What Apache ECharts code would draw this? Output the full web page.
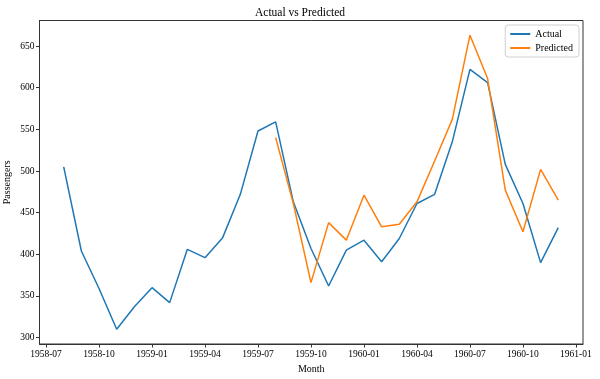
<!DOCTYPE html>
<html>
<head>
<meta charset="utf-8">
<script src="https://cdn.jsdelivr.net/npm/echarts@6/dist/echarts.min.js"></script>
<style>html,body{margin:0;padding:0;background:#fff;}#c{width:600px;height:379px;}</style>
</head>
<body>
<div id="c"></div>
<script>
const actualMonths = ['1958-08','1958-09','1958-10','1958-11','1958-12','1959-01','1959-02','1959-03','1959-04','1959-05','1959-06','1959-07','1959-08','1959-09','1959-10','1959-11','1959-12','1960-01','1960-02','1960-03','1960-04','1960-05','1960-06','1960-07','1960-08','1960-09','1960-10','1960-11','1960-12'];
const actualValues = [505,404,359,310,337,360,342,406,396,420,472,548,559,463,407,362,405,417,391,419,461,472,535,622,606,508,461,390,432];
const predictedMonths = ['1959-08','1959-09','1959-10','1959-11','1959-12','1960-01','1960-02','1960-03','1960-04','1960-05','1960-06','1960-07','1960-08','1960-09','1960-10','1960-11','1960-12'];
const predictedValues = [540,461,366,438,417,471,433,436,463,512,562,663,611,477,427,502,465];
const xTickLabels = ['1958-07','1958-10','1959-01','1959-04','1959-07','1959-10','1960-01','1960-04','1960-07','1960-10','1961-01'];
const yTicks = [300,350,400,450,500,550,600,650];

const BASE_YEAR = 1958;
function toIdx(s){const p=s.split('-');return (parseInt(p[0])-BASE_YEAR)*12+(parseInt(p[1])-1);}
function fromIdx(i){const y=BASE_YEAR+Math.floor(i/12);const m=i%12+1;return y+'-'+(m<10?'0':'')+m;}
const xTicks = xTickLabels.map(toIdx);

const font = 'Liberation Serif';
const chart = echarts.init(document.getElementById('c'), null, {renderer:'canvas'});
chart.setOption({
  animation:false,
  backgroundColor:'#fff',
  title:{text:'Actual vs Predicted',left:'center',top:2,textStyle:{fontFamily:font,fontSize:11.5,fontWeight:'normal',color:'#000'}},
  legend:{
    data:['Actual','Predicted'],orient:'vertical',right:21,top:25,
    icon:'rect',itemWidth:20,itemHeight:2,itemGap:4,
    padding:[4,6,4,5],borderColor:'#d0d0d0',borderWidth:1,borderRadius:3,
    textStyle:{fontFamily:font,fontSize:10,color:'#000'}
  },
  grid:{left:39.5,right:17,top:20.5,bottom:35,show:true,borderColor:'#333',borderWidth:1,containLabel:false,outerBoundsMode:'none'},
  xAxis:{
    type:'value',min:5.63,max:36.4,
    name:'Month',nameLocation:'middle',nameGap:20,
    nameTextStyle:{fontFamily:font,fontSize:10,color:'#000'},
    axisLine:{show:true,onZero:false,lineStyle:{color:'#333',width:1}},
    axisTick:{show:true,length:3.5,customValues:xTicks,lineStyle:{color:'#333'}},
    axisLabel:{customValues:xTicks,formatter:v=>fromIdx(Math.round(v)),fontFamily:font,fontSize:9.5,color:'#000',margin:5},
    splitLine:{show:false}
  },
  yAxis:{
    type:'value',min:292.35,max:680.65,
    name:'Passengers',nameLocation:'middle',nameGap:27,nameRotate:90,nameMoveOverlap:false,
    nameTextStyle:{fontFamily:font,fontSize:10,color:'#000'},
    axisLine:{show:true,onZero:false,lineStyle:{color:'#333',width:1}},
    axisTick:{show:true,length:3.5,customValues:yTicks,lineStyle:{color:'#333'}},
    axisLabel:{customValues:yTicks,fontFamily:font,fontSize:9.5,color:'#000',margin:5},
    splitLine:{show:false}
  },
  series:[
    {name:'Actual',type:'line',showSymbol:false,data:actualMonths.map((m,i)=>[toIdx(m),actualValues[i]]),lineStyle:{color:'#1f77b4',width:1.5},itemStyle:{color:'#1f77b4'}},
    {name:'Predicted',type:'line',showSymbol:false,data:predictedMonths.map((m,i)=>[toIdx(m),predictedValues[i]]),lineStyle:{color:'#ff7f0e',width:1.5},itemStyle:{color:'#ff7f0e'}}
  ]
});
</script>
</body>
</html>
